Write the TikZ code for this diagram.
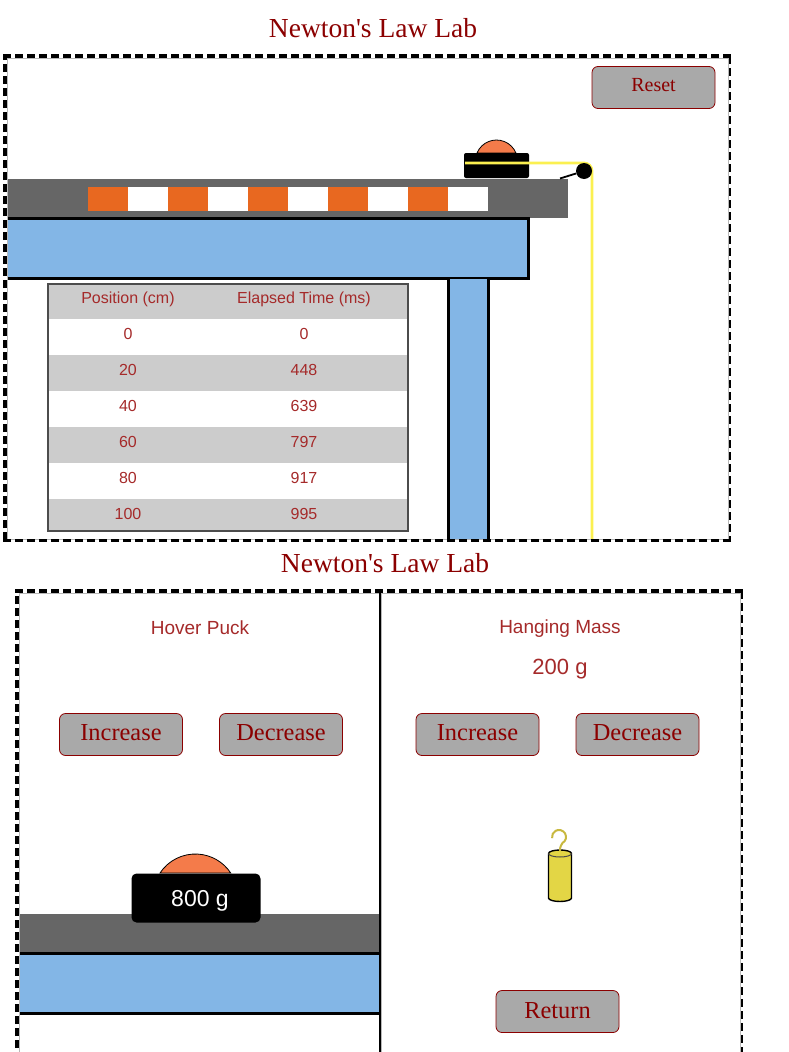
\documentclass[tikz,border=0pt]{standalone}
\usepackage{fontspec}
\setmainfont{Liberation Serif}
\setsansfont{Liberation Sans}
\usepackage{tikz}
\usetikzlibrary{shapes.geometric,shapes.misc,calc,positioning}
\definecolor{labred}{HTML}{A52A2A}
\definecolor{titlered}{HTML}{8B0000}
\definecolor{track}{HTML}{666666}
\definecolor{tableblue}{HTML}{83B6E6}
\definecolor{tape}{HTML}{E86820}
\definecolor{puckdome}{HTML}{F47B4A}
\definecolor{rowgray}{HTML}{CCCCCC}
\definecolor{btngray}{HTML}{A9A9A9}
\definecolor{cord}{HTML}{FBF050}
\definecolor{massyellow}{HTML}{E3D645}
\definecolor{hookyellow}{HTML}{C8B840}
\tikzset{
	labtitle/.style={text=titlered,font=\fontsize{27.5}{27.5}\selectfont,inner sep=0pt},
	labbtn/.style={draw=titlered,fill=btngray,rounded corners=6pt,line width=0.8pt,minimum height=42pt,minimum width=123pt,text=titlered,inner sep=0pt,font=\fontsize{24.4}{24.4}\selectfont},
	resetbtn/.style={labbtn,font=\fontsize{20}{20}\selectfont},
	labframe/.style={draw=black,line width=4pt,dash pattern=on 8pt off 4pt},
	innerframe/.style={draw=black!28,line width=1pt},
	celltext/.style={text=labred,font=\sffamily\fontsize{16}{16}\selectfont,inner sep=0pt},
	masstext/.style={text=labred,font=\sffamily\fontsize{19}{19}\selectfont,inner sep=0pt}
}
\begin{document}
\begin{tikzpicture}[x=1pt,y=-1pt]
		\useasboundingbox (0,0) rectangle (788,1052);
		\clip (0,0) rectangle (788,1052);
		\node (title1) [labtitle] at (373,28) {Newton\textquotesingle s Law Lab};
		\node (reset) [resetbtn] at (653.5,87.5) {\raisebox{5pt}{Reset}};
		\fill [track] (7,179) rectangle (568,218);
		\foreach \i in {0,...,4} {
			\fill [tape] (88+80*\i,187) rectangle (128+80*\i,211);
			\fill [white] (128+80*\i,187) rectangle (168+80*\i,211);
		}
		\fill [tableblue] (7,218.5) rectangle (528,278.5);
		\draw [line width=3pt] (7,218.5) -- (528,218.5) -- (528,278.5) -- (7,278.5);
		\fill [tableblue] (448,279) rectangle (488,540);
		\draw [line width=3pt] (448,279) -- (448,540);
		\draw [line width=3pt] (488,279) -- (488,540);
		\fill [rowgray] (48,284) rectangle (408,319);
		\fill [rowgray] (48,355) rectangle (408,391);
		\fill [rowgray] (48,427) rectangle (408,463);
		\fill [rowgray] (48,499) rectangle (408,531);
		\draw [draw=black!70,line width=2pt] (48,284) rectangle (408,531);
		\node (head1) [celltext] at (128,299) {Position (cm)};
		\node (head2) [celltext] at (304,299) {Elapsed Time (ms)};
		\foreach \pos/\ms [count=\r from 0] in {0/0,20/448,40/639,60/797,80/917,100/995} {
			\node (pos\r) [celltext] at (128,333.5+36*\r) {\pos};
			\node (ms\r) [celltext] at (304,333.5+36*\r) {\ms};
		}
		\fill [puckdome,draw=black,line width=0.8pt] (477,153) arc (202.6:337.4:21.1) -- cycle;
		\node (puck1) [fill=black,rounded corners=2pt,minimum width=65pt,minimum height=25pt,inner sep=0pt] at (496.5,165.5) {};
		\coordinate (cordstart) at (465,163);
		\coordinate (cordend) at (592,540);
		\coordinate (armend) at (560,178.5);
		\draw [cord,line width=2.8pt] (cordstart) -- (584,163) arc (-90:0:8) -- (cordend);
		\node (pulley) [circle,fill=black,minimum size=16pt,inner sep=0pt] at (584,171) {};
		\draw [line width=1.8pt,black] (armend) -- (pulley);
		\draw [innerframe] (7.5,58.5) rectangle (728.5,539);
		\draw [labframe] (5,540) -- (5,56);
		\draw [labframe] (3,56) -- (731,56);
		\draw [labframe,line width=2pt] (730,56) -- (730,541);
		\draw [labframe,line width=3pt] (731,540.5) -- (3,540.5);
		\node (title2) [labtitle] at (385,563) {Newton\textquotesingle s Law Lab};
		\draw [innerframe] (19.5,593.5) rectangle (740.5,1060);
		\draw [labframe] (17,1060) -- (17,591);
		\draw [labframe] (15,591) -- (743,591);
		\draw [labframe,line width=2pt] (742,591) -- (742,1060);
		\node (puckhead) [masstext] at (200,628) {Hover Puck};
		\node (masshead) [masstext] at (560,629) {Hanging Mass};
		\node (massval) [masstext,font=\sffamily\fontsize{22}{22}\selectfont] at (560,669.5) {200 g};
		\node (puckinc) [labbtn] at (121,734.5) {\raisebox{3pt}{Increase}};
		\node (puckdec) [labbtn] at (281,734.5) {\raisebox{3pt}{Decrease}};
		\node (massinc) [labbtn] at (477.5,734.5) {\raisebox{3pt}{Increase}};
		\node (massdec) [labbtn] at (637.5,734.5) {\raisebox{3pt}{Decrease}};
		\node (return) [labbtn] at (557.5,1011.5) {\raisebox{3pt}{Return}};
		\fill [track] (20,914) rectangle (380,953);
		\fill [tableblue] (20,953.5) rectangle (380,1013.5);
		\draw [line width=3pt] (20,953.5) -- (380,953.5);
		\draw [line width=3pt] (20,1013.5) -- (380,1013.5);
		\draw [black!28,line width=1pt] (381.5,593) -- (381.5,1060);
		\draw [line width=2pt] (380,593) -- (380,1060);
		\fill [puckdome,draw=black,line width=0.8pt] (160,873) arc (213.5:326.5:42.4) -- cycle;
		\node (puck2) [fill=black,rounded corners=5pt,minimum width=129pt,minimum height=49pt,inner sep=0pt,text=white,font=\sffamily\fontsize{23}{23}\selectfont] at (196,898) {\hspace*{8pt}\raisebox{-8pt}[0pt][0pt]{800 g}};
		\fill [massyellow,draw=black,line width=1.4pt] (548.5,853.5) -- (548.5,898) arc (180:0:11.5 and 3.5) -- (571.5,853.5) arc (0:-180:11.5 and 3.5);
		\draw [black!70,line width=1pt] (548.5,853.5) arc (180:0:11.5 and 3.5);
		\draw [hookyellow,line width=2pt] (560,851) -- (560,848.5) .. controls (560,846) and (562,844.5) .. (562.5,843) arc (60:-190:7);
	\end{tikzpicture}
\end{document}
